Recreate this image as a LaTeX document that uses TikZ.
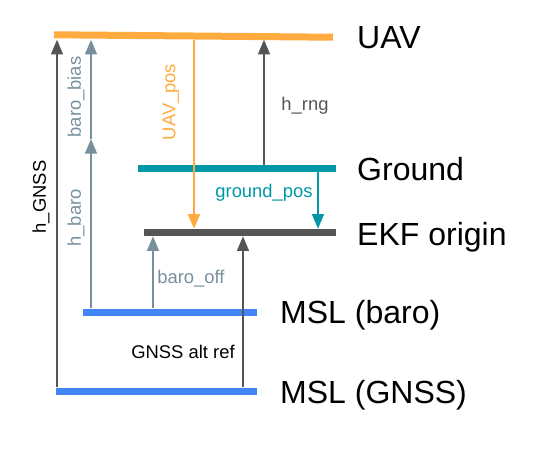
\documentclass[tikz,border=0pt]{standalone}
\usepackage{fontspec}
\setmainfont{Liberation Sans}
\usetikzlibrary{arrows.meta}
\definecolor{uavorange}{HTML}{FFAB40}
\definecolor{groundteal}{HTML}{0097A7}
\definecolor{ekfgray}{HTML}{555555}
\definecolor{mslblue}{HTML}{4285F4}
\definecolor{baroslate}{HTML}{78909C}
\tikzset{
  levelbar/.style={fill=#1, inner sep=0pt, minimum height=5.25pt},
  big/.style={anchor=base west, font=\fontsize{24}{28}\selectfont},
  small/.style={font=\fontsize{13.8}{16}\selectfont},
  arr/.style={draw=#1, line width=1.1pt, -{Triangle[length=11pt,width=9pt]}},
}
\begin{document}
\begin{tikzpicture}[x=0.75pt,y=-0.75pt]
            \useasboundingbox (0,0) rectangle (547,450);

            % Levels
            \node[levelbar=uavorange, minimum width=209.25pt, rotate=-0.5] (uav) at (193.5,36) {};
            \node[levelbar=groundteal, minimum width=148.5pt] (ground) at (237,168.5) {};
            \node[levelbar=ekfgray, minimum width=144pt] (ekf) at (240,232.5) {};
            \node[levelbar=mslblue, minimum width=130.5pt] (baro) at (170,312) {};
            \node[levelbar=mslblue, minimum width=150.75pt] (gnss) at (156.5,391) {};

            % Level names
            \node[big] (uavname) at (352.5,48) {UAV};
            \node[big] (groundname) at (352.5,180) {Ground};
            \node[big] (ekfname) at (352.5,245) {EKF origin};
            \node[big] (baroname) at (275.5,323) {MSL (baro)};
            \node[big] (gnssname) at (275.5,403) {MSL (GNSS)};

            % Arrows
            \coordinate (bmid) at (91,139);
            \draw[arr=ekfgray] (57,0 |- gnss.north) -- (57,0 |- uav.south);
            \draw[arr=baroslate] (91,0 |- baro.north) -- (bmid);
            \draw[arr=baroslate] (bmid) -- (91,0 |- uav.south);
            \draw[arr=uavorange] (194,0 |- uav.south) -- (194,0 |- ekf.north);
            \draw[arr=ekfgray] (264,0 |- ground.north) -- (264,0 |- uav.south);
            \draw[arr=groundteal] (318,0 |- ground.south) -- (318,0 |- ekf.north);
            \draw[arr=baroslate] (153,0 |- baro.north) -- (153,0 |- ekf.south);
            \draw[arr=ekfgray] (243,0 |- gnss.north) -- (243,0 |- ekf.south);

            % Arrow labels
            \node[small, rotate=90, text=black] (hgnss) at (41,197) {h\_GNSS};
            \node[small, rotate=90, text=baroslate] (barobias) at (76,97) {baro\_bias};
            \node[small, rotate=90, text=baroslate] (hbaro) at (76,218) {h\_baro};
            \node[small, rotate=90, text=uavorange] (uavpos) at (171,102) {UAV\_pos};
            \node[small, text=ekfgray] (hrng) at (305,106) {h\_rng};
            \node[small, text=groundteal] (groundpos) at (264,193) {ground\_pos};
            \node[small, text=baroslate] (barooff) at (191,279) {baro\_off};
            \node[small, text=black] (altref) at (183,352) {GNSS alt ref};

        \end{tikzpicture}
\end{document}
